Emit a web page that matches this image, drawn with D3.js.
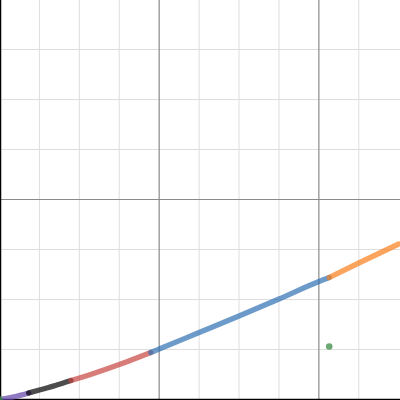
<!DOCTYPE html>
<html lang="en">
<head>
  <meta charset="UTF-8">
  <title>Curve segments</title>
  <style>
    html, body { margin: 0; padding: 0; background: #fff; }
    svg { display: block; }
  </style>
</head>
<body>
  <svg id="chart" width="400" height="400"></svg>
  <script src="https://d3js.org/d3.v7.min.js"></script>
  <script>
    // grid ticks (data units)
    const xTicks = [1, 2, 3, 4, 5, 6, 7, 8, 9];
    const yTicks = [1, 2, 3, 4, 5, 6, 7];
    const xMajor = [4, 8];
    const yMajor = [4];

    // curve pieces
    const purpleX = [0, 0.4, 0.73];
    const purpleY = [0, 0.06, 0.13];
    const blackX = [0.73, 1, 1.4, 1.79];
    const blackY = [0.13, 0.19, 0.28, 0.38];
    const redX = [1.79, 2, 2.5, 3, 3.5, 3.79];
    const redY = [0.38, 0.43, 0.56, 0.7, 0.85, 0.94];
    const blueX = [3.79, 4, 5, 6, 7, 8, 8.26];
    const blueY = [0.94, 1.01, 1.34, 1.67, 2.01, 2.36, 2.44];
    const orangeX = [8.26, 9, 10];
    const orangeY = [2.44, 2.73, 3.11];

    // loose points
    const pointX = [0, 8.26];
    const pointY = [0, 1.06];

    const segments = [
      { xs: purpleX, ys: purpleY, color: "#6042a6" },
      { xs: blackX, ys: blackY, color: "#000000" },
      { xs: redX, ys: redY, color: "#c74440" },
      { xs: blueX, ys: blueY, color: "#2d70b3" },
      { xs: orangeX, ys: orangeY, color: "#fa7e19" }
    ];

    const svg = d3.select('#chart');
    const x = d3.scaleLinear().domain([0, 10.02]).range([-0.5, 399.5]);
    const y = d3.scaleLinear().domain([0, 8]).range([399.5, -0.5]);

    // minor grid
    const grid = svg.append('g');
    grid.selectAll('.vx')
      .data(xTicks.filter(d => !xMajor.includes(d)))
      .enter().append('line')
      .attr('x1', d => x(d)).attr('x2', d => x(d))
      .attr('y1', 0).attr('y2', 400)
      .attr('stroke', '#dedede').attr('stroke-width', 1);
    grid.selectAll('.hy')
      .data(yTicks.filter(d => !yMajor.includes(d)))
      .enter().append('line')
      .attr('x1', 0).attr('x2', 400)
      .attr('y1', d => y(d)).attr('y2', d => y(d))
      .attr('stroke', '#dedede').attr('stroke-width', 1);

    // major grid
    grid.selectAll('.vmaj')
      .data(xMajor)
      .enter().append('line')
      .attr('x1', d => x(d)).attr('x2', d => x(d))
      .attr('y1', 0).attr('y2', 400)
      .attr('stroke', '#8a8a8a').attr('stroke-width', 1.2);
    grid.selectAll('.hmaj')
      .data(yMajor)
      .enter().append('line')
      .attr('x1', 0).attr('x2', 400)
      .attr('y1', d => y(d)).attr('y2', d => y(d))
      .attr('stroke', '#8a8a8a').attr('stroke-width', 1.2);

    // axes
    svg.append('line')
      .attr('x1', x(0) + 1).attr('x2', x(0) + 1)
      .attr('y1', 0).attr('y2', 400)
      .attr('stroke', '#000').attr('stroke-width', 1.5);
    svg.append('line')
      .attr('x1', 0).attr('x2', 400)
      .attr('y1', y(0)).attr('y2', y(0))
      .attr('stroke', '#000').attr('stroke-width', 1.5);

    // curve
    const line = d3.line()
      .x(d => x(d[0]))
      .y(d => y(d[1]))
      .curve(d3.curveMonotoneX);

    segments.forEach(s => {
      svg.append('path')
        .datum(s.xs.map((v, i) => [v, s.ys[i]]))
        .attr('d', line)
        .attr('fill', 'none')
        .attr('stroke', s.color)
        .attr('stroke-opacity', 0.7)
        .attr('stroke-width', 5.3)
        .attr('stroke-linecap', 'round');
    });

    svg.selectAll('.pt')
      .data(pointX.map((v, i) => [v, pointY[i]]))
      .enter().append('circle')
      .attr('cx', d => x(d[0]))
      .attr('cy', d => y(d[1]))
      .attr('r', 3.3)
      .attr('fill', '#388c46')
      .attr('fill-opacity', 0.75);
  </script>
</body>
</html>
